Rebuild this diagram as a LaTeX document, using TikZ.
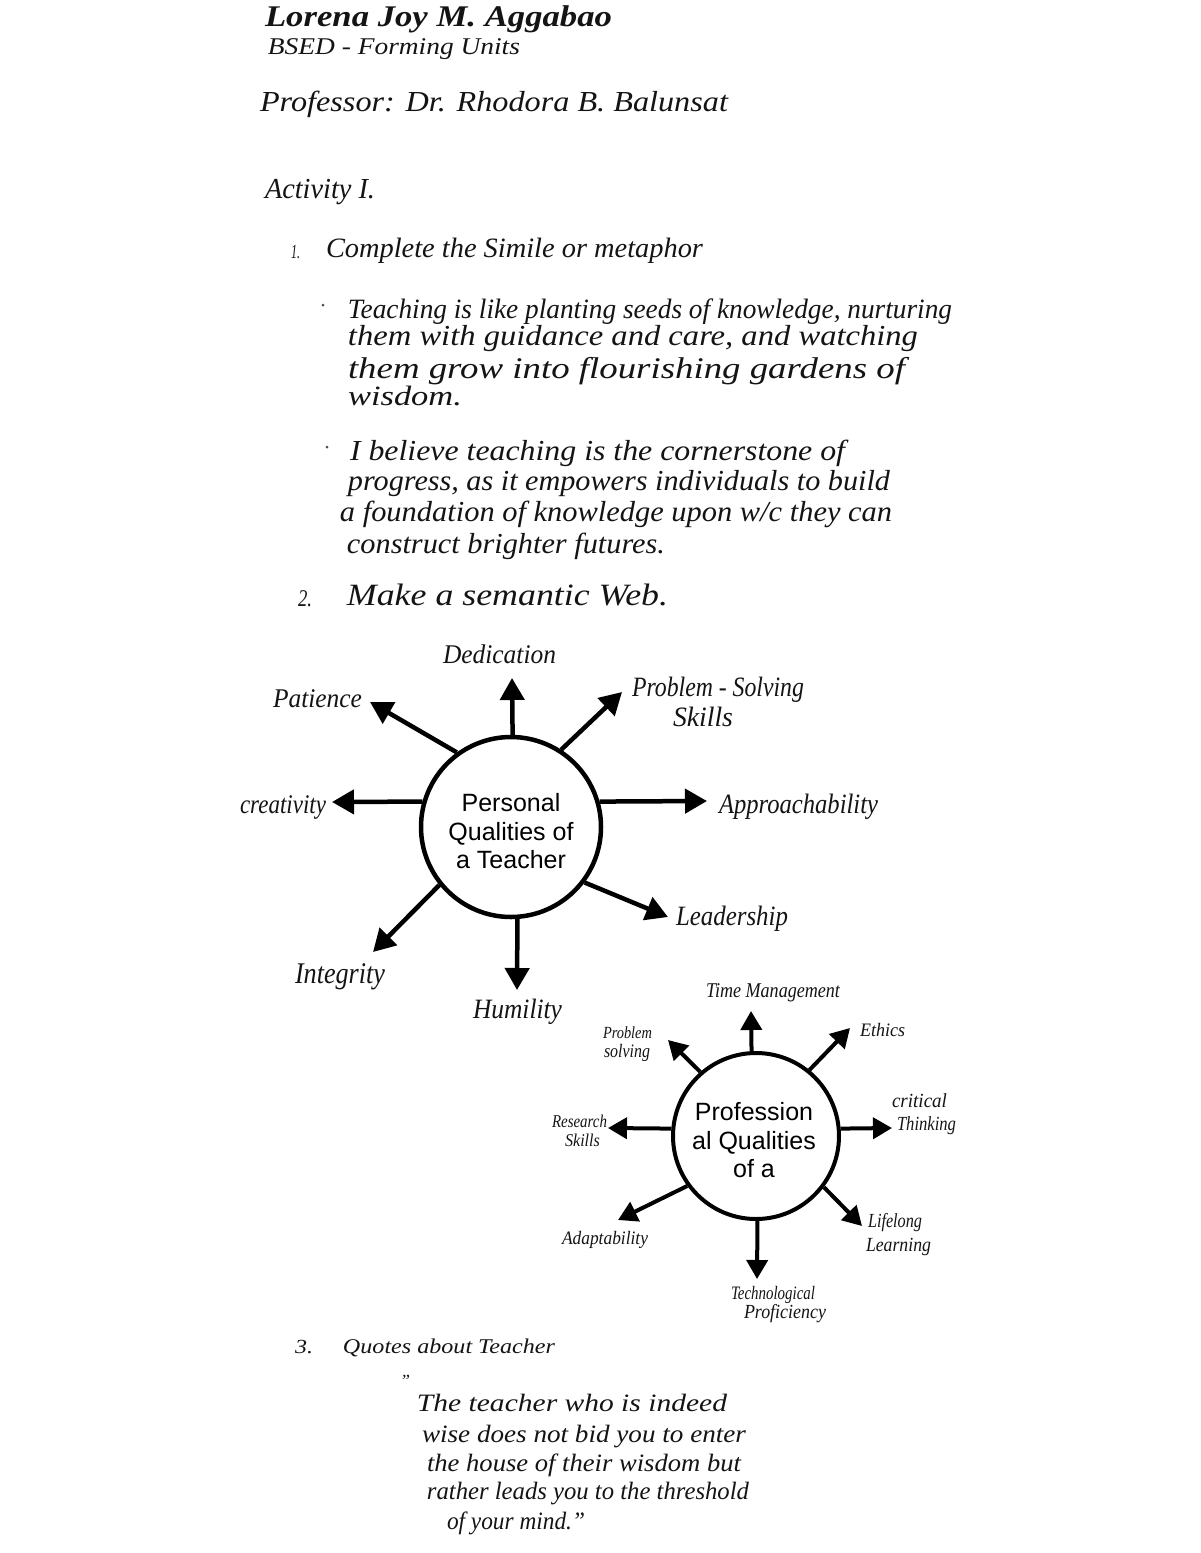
\documentclass[tikz,border=0pt]{standalone}
\usepackage{fontspec}
\usepackage{graphicx}
\setmainfont{Liberation Serif}
\setsansfont{Liberation Sans}
\usetikzlibrary{arrows.meta}
\newcommand{\hw}[6]{%
  \pgfmathsetmacro{\hwW}{#3-#2}%
  \pgfmathsetmacro{\hwX}{(#2+#3)/2}%
  \node[hand] (#1) at (\hwX,#4) {\resizebox{\hwW pt}{\height}{\fontsize{#5}{#5}\selectfont #6}};}
\newcommand{\hwb}[6]{\hw{#1}{#2}{#3}{#4}{#5}{\bfseries #6}}
\tikzset{
  hand/.style={inner sep=0pt,outer sep=0pt,anchor=mid,font=\itshape,text=black!92},
  hub/.style={circle,draw=black,line width=4.5pt,fill=white,inner sep=0pt,align=center,font=\sffamily\fontsize{25}{28.5}\selectfont},
  bigarrow/.style={line width=4.5pt,-{Triangle[length=22pt,width=24pt]}},
  smallarrow/.style={line width=4pt,-{Triangle[length=19pt,width=21pt]}},
  dotmark/.style={circle,fill=black!70,inner sep=0pt,minimum size=3pt}
}
\begin{document}
\begin{tikzpicture}[x=1pt,y=-1pt]
\useasboundingbox (0,0) rectangle (1200,1553);
\fill[white] (0,0) rectangle (1200,1553);
% header
\hwb{l1}{265}{612}{24}{30}{Lorena Joy M. Aggabao}
\hw{l2}{268}{520}{52}{24}{BSED - Forming Units}
\hw{l3}{260}{728}{109}{29}{Professor: Dr. Rhodora B. Balunsat}
\hw{l4}{265}{375}{196}{29}{Activity I.}
\hw{n1}{291}{300}{256}{20}{1.}
\hw{l5}{326}{703}{255}{28}{Complete the Simile or metaphor}
% bullets
\node[dotmark] (b1) at (323,305) {};
\hw{t1}{348}{952}{316}{28}{Teaching is like planting seeds of knowledge, nurturing}
\hw{t2}{348}{918}{343}{29}{them with guidance and care, and watching}
\hw{t3}{348}{905}{376}{30}{them grow into flourishing gardens of}
\hw{t4}{348}{462}{403}{28}{wisdom.}
\node[dotmark] (b2) at (327,447) {};
\hw{u1}{350}{845}{458}{29}{I believe teaching is the cornerstone of}
\hw{u2}{348}{890}{488}{29}{progress, as it empowers individuals to build}
\hw{u3}{340}{892}{519}{29}{a foundation of knowledge upon w/c they can}
\hw{u4}{347}{665}{551}{29}{construct brighter futures.}
\hw{n2}{298}{312}{604}{24}{2.}
\hw{l6}{347}{668}{603}{31}{Make a semantic Web.}
% web one
\node[hub,minimum size=180pt] (pq) at (511,827) {\rule{0pt}{27pt}Personal\\Qualities of\\a Teacher};
\hw{a1}{443}{556}{661}{27}{Dedication}
\hw{a2}{273}{362}{705}{27}{Patience}
\hw{a3}{632}{804}{694}{28}{Problem - Solving}
\hw{a4}{673}{733}{724}{28}{Skills}
\hw{a5}{719}{878}{811}{28}{Approachability}
\hw{a6}{676}{788}{923}{28}{Leadership}
\hw{a7}{473}{562}{1016}{28}{Humility}
\hw{a8}{295}{385}{981}{30}{Integrity}
\hw{a9}{240}{326}{811}{27}{creativity}
\coordinate (e1) at (512,678);
\coordinate (e2) at (370,702);
\coordinate (e3) at (622,692);
\coordinate (e4) at (707,801);
\coordinate (e5) at (668,917);
\coordinate (e6) at (517,990);
\coordinate (e7) at (373,952);
\coordinate (e8) at (332,802);
\draw[bigarrow] (pq.89.4) -- (e1);
\draw[bigarrow] (pq.126) -- (e2);
\draw[bigarrow] (pq.57) -- (e3);
\draw[bigarrow] (pq.16.4) -- (e4);
\draw[bigarrow] (pq.-37) -- (e5);
\draw[bigarrow] (pq.-86.3) -- (e6);
\draw[bigarrow] (pq.219) -- (e7);
\draw[bigarrow] (pq.164.3) -- (e8);
% web two
\node[hub,line width=4pt,minimum size=166pt] (prof) at (756,1136) {\hspace*{-4pt}\rule{0pt}{27pt}Profession\\\hspace*{-4pt}al Qualities\\\hspace*{-4pt}of a};
\hw{c1}{706}{840}{995}{21}{Time Management}
\hw{c2}{860}{905}{1034}{19}{Ethics}
\hw{c3}{603}{652}{1036}{17}{Problem}
\hw{c4}{604}{650}{1055}{19}{solving}
\hw{c5}{892}{947}{1105}{20}{critical}
\hw{c6}{897}{956}{1128}{20}{Thinking}
\hw{c7}{868}{922}{1225}{20}{Lifelong}
\hw{c8}{866}{931}{1249}{20}{Learning}
\hw{c9}{731}{815}{1297}{19}{Technological}
\hw{c10}{744}{826}{1316}{20}{Proficiency}
\hw{c11}{562}{648}{1242}{19}{Adaptability}
\hw{c12}{552}{607}{1125}{18}{Research}
\hw{c13}{565}{600}{1144}{18}{Skills}
\coordinate (f1) at (751,1011);
\coordinate (f2) at (850,1028);
\coordinate (f3) at (892,1128);
\coordinate (f4) at (862,1226);
\coordinate (f5) at (757,1279);
\coordinate (f6) at (618,1220);
\coordinate (f7) at (608,1128);
\coordinate (f8) at (668,1040);
\draw[smallarrow] (prof.93.4) -- (f1);
\draw[smallarrow] (prof.51) -- (f2);
\draw[smallarrow] (prof.5.4) -- (f3);
\draw[smallarrow] (prof.-37) -- (f4);
\draw[smallarrow] (prof.-89.3) -- (f5);
\draw[smallarrow] (prof.216) -- (f6);
\draw[smallarrow] (prof.175.3) -- (f7);
\draw[smallarrow] (prof.131) -- (f8);
% quotes
\hw{n3}{295}{313}{1351}{20}{3.}
\hw{q0}{343}{555}{1351}{21}{Quotes about Teacher}
\hw{q1}{400}{410}{1384}{17}{"}
\hw{q2}{417}{727}{1409}{25}{The teacher who is indeed}
\hw{q3}{422}{746}{1440}{25}{wise does not bid you to enter}
\hw{q4}{427}{741}{1469}{25}{the house of their wisdom but}
\hw{q5}{427}{749}{1497}{25}{rather leads you to the threshold}
\hw{q6}{447}{585}{1527}{25}{of your mind."}
\end{tikzpicture}
\end{document}
